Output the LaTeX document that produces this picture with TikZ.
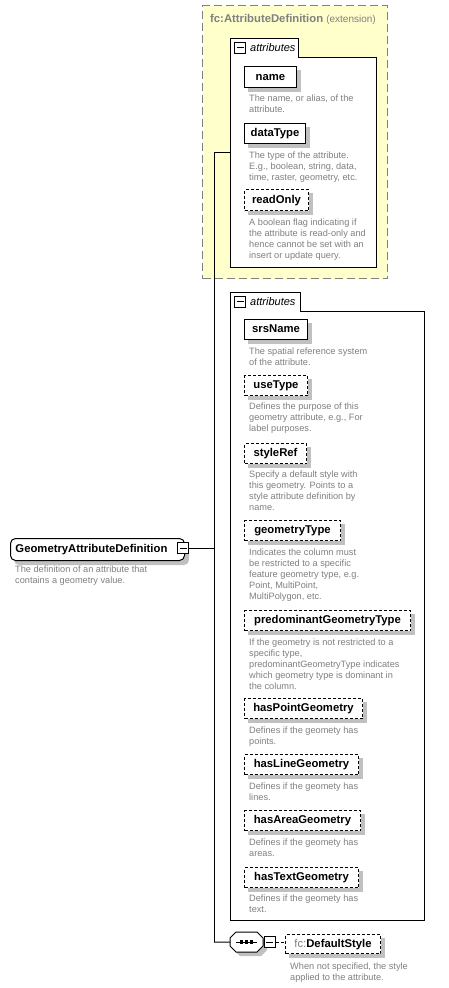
\documentclass[tikz,border=0pt]{standalone}
\usepackage{fontspec}
\setmainfont{Liberation Sans}
\definecolor{descgray}{RGB}{128,128,128}
\definecolor{titlegray}{RGB}{128,128,128}
\definecolor{shadowgray}{RGB}{192,192,192}
\definecolor{extyellow}{RGB}{255,255,204}
\pgfdeclarelayer{bg}
\pgfdeclarelayer{shadowlayer}
\pgfsetlayers{bg,shadowlayer,main}
\tikzset{
  elembox/.style={draw=black, line width=1pt, fill=white, anchor=north west, inner sep=0pt,
    minimum height=20pt, font=\fontsize{11.3}{13}\selectfont\bfseries, text height=8pt, text depth=2pt},
  optbox/.style={elembox, dash pattern=on 3pt off 2pt},
  desc/.style={anchor=north west, inner sep=0pt, align=left, text=descgray, font=\fontsize{9.2}{11}\selectfont},
  grp/.style={draw=black, line width=1pt, fill=white},
  conn/.style={draw=black, line width=1pt},
  shadowfill/.style={fill=shadowgray, draw=none},
  tablabel/.style={anchor=west, inner sep=0pt, font=\fontsize{11}{13}\selectfont\itshape},
  minusbox/.style={draw=black, line width=1pt, fill=white, minimum size=11pt, inner sep=0pt,
    path picture={\draw[line width=1pt] ([xshift=2pt]path picture bounding box.west) -- ([xshift=-2pt]path picture bounding box.east);}},
  extbox/.style={draw=titlegray, fill=extyellow, line width=1pt, dash pattern=on 8pt off 4pt,
    anchor=north west, inner sep=0pt}
}
\begin{document}
\begin{tikzpicture}[x=1pt,y=-1pt]
\useasboundingbox (0,0) rectangle (448,988);
\begin{pgfonlayer}{bg}
% extension box
\node[extbox, minimum width=185pt, minimum height=273pt] (ext) at (202,5) {};
% group 1
\draw[grp] (230,38) -- (298,38) -- (298,57) -- (376,57) -- (376,267) -- (230,267) -- cycle;
% group 2
\draw[grp] (230,292) -- (300,292) -- (300,311) -- (424,311) -- (424,920) -- (230,920) -- cycle;
\end{pgfonlayer}
\node[anchor=west, inner sep=0pt, text=titlegray] (exttitle) at (210,19)
  {\fontsize{11.3}{13}\selectfont\bfseries fc:AttributeDefinition \fontsize{10}{12}\selectfont\mdseries(extension)};
\node[minusbox] (g1minus) at (240,47.5) {};
\node[tablabel] (g1label) at (250,47.5) {attributes};
\coordinate (g1in) at (230,152);

\node[elembox, minimum width=52pt, minimum height=21pt] (name) at (244,66) {name};
\node[desc] (dname) at (249,95) {The name, or alias, of the\\attribute.};
\node[elembox, minimum width=61pt] (dataType) at (244,123) {dataType};
\node[desc] (ddataType) at (249,152) {The type of the attribute.\\E.g., boolean, string, data,\\time, raster, geometry, etc.};
\node[optbox, minimum width=64pt, minimum height=21pt] (readOnly) at (244,189) {readOnly};
\node[desc] (dreadOnly) at (249,219) {A boolean flag indicating if\\the attribute is read-only and\\hence cannot be set with an\\insert or update query.};

\node[minusbox] (g2minus) at (240,301.5) {};
\node[tablabel] (g2label) at (250,301.5) {attributes};

\node[elembox, minimum width=63pt] (srsName) at (244,319) {srsName};
\node[desc] (dsrsName) at (249,348) {The spatial reference system\\of the attribute.};
\node[optbox, minimum width=63pt] (useType) at (244,375) {useType};
\node[desc] (duseType) at (249,403) {Defines the purpose of this\\geometry attribute, e.g., For\\label purposes.};
\node[optbox, minimum width=62pt] (styleRef) at (244,443) {styleRef};
\node[desc] (dstyleRef) at (249,471) {Specify a default style with\\this geometry. Points to a\\style attribute definition by\\name.};
\node[optbox, minimum width=96pt] (geometryType) at (244,520) {geometryType};
\node[desc] (dgeometryType) at (249,549) {Indicates the column must\\be restricted to a specific\\feature geometry type, e.g.\\Point, MultiPoint,\\MultiPolygon, etc.};
\node[optbox, minimum width=166pt] (predom) at (244,610) {predominantGeometryType};
\node[desc] (dpredom) at (249,639) {If the geometry is not restricted to a\\specific type,\\predominantGeometryType indicates\\which geometry type is dominant in\\the column.};
\node[optbox, minimum width=118pt] (hasPoint) at (244,698) {hasPointGeometry};
\node[desc] (dhasPoint) at (249,727) {Defines if the geomety has\\points.};
\node[optbox, minimum width=114pt] (hasLine) at (244,754) {hasLineGeometry};
\node[desc] (dhasLine) at (249,783) {Defines if the geomety has\\lines.};
\node[optbox, minimum width=116pt] (hasArea) at (244,810) {hasAreaGeometry};
\node[desc] (dhasArea) at (249,839) {Defines if the geomety has\\areas.};
\node[optbox, minimum width=114pt] (hasText) at (244,867) {hasTextGeometry};
\node[desc] (dhasText) at (249,895) {Defines if the geomety has\\text.};

% root
\node[elembox, rounded corners=5pt, minimum width=174pt, minimum height=22pt, text width=164pt,
      inner xsep=5pt, align=left] (root) at (10,538) {GeometryAttributeDefinition};
\node[minusbox] (rootminus) at (183,548) {};
\node[desc] (droot) at (15,566) {The definition of an attribute that\\contains a geometry value.};

% spine
\coordinate (sptop) at (214,152);
\coordinate (sproot) at (214,548);
\coordinate (spbot) at (214,942);
\draw[conn] (rootminus.east) -- (sproot);
\draw[conn] (sptop) -- (spbot);
\draw[conn] (sptop) -- (g1in);

% sequence compositor
\draw[line width=1pt, fill=white] (236,932) -- (257,932) -- (263,938) -- (263,946) -- (257,952) -- (236,952) -- (230,946) -- (230,938) -- cycle;
\node[inner sep=0pt, minimum width=33pt, minimum height=20pt, anchor=north west] (seq) at (230,932) {};
\draw[line width=1pt] (236,942) -- (257,942);
\foreach \cx in {241.5,246.5,251.5} \fill (\cx-1.6,940.4) rectangle (\cx+1.6,943.6);
\draw[conn] (spbot) -- (seq.west);
\node[minusbox] (seqminus) at (269.5,942) {};

% DefaultStyle
\node[optbox, minimum width=95pt, minimum height=19pt] (defstyle) at (285,934)
  {{\mdseries\color{titlegray}fc:}DefaultStyle};
\draw[line width=1pt, dash pattern=on 3pt off 2pt] (seqminus.east) -- (seqminus.east -| defstyle.west);
\node[desc] (ddefstyle) at (290,963) {When not specified, the style\\applied to the attribute.};

% shadows
\begin{pgfonlayer}{shadowlayer}
\foreach \n in {name,dataType,readOnly,srsName,useType,styleRef,geometryType,predom,hasPoint,hasLine,hasArea,hasText,defstyle}
  \fill[shadowfill] ([shift={(4,4)}]\n.north west) rectangle ([shift={(4,4)}]\n.south east);
\fill[shadowfill, rounded corners=5pt] ([shift={(4,4)}]root.north west) rectangle ([shift={(4,4)}]root.south east);
\fill[shadowfill] ([shift={(4,4)}]seq.north west) ++(6,0) -- ++(21,0) -- ++(6,6) -- ++(0,8) -- ++(-6,6) -- ++(-21,0) -- ++(-6,-6) -- ++(0,-8) -- cycle;
\end{pgfonlayer}
\end{tikzpicture}
\end{document}
